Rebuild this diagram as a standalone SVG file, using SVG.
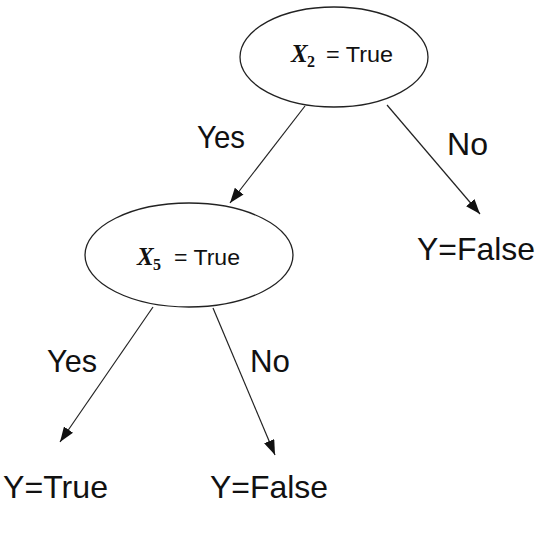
<svg xmlns="http://www.w3.org/2000/svg" width="548" height="552" viewBox="0 0 548 552">
<style>
.node{fill:#fff;stroke:#222;stroke-width:1.3}
.edge{stroke:#222;stroke-width:1.2;fill:none}
.lbl{font-family:"Liberation Sans",Arial,sans-serif;font-size:32px;fill:#111}
.var{font-family:"Liberation Serif","Times New Roman",serif;font-weight:bold;font-style:italic;font-size:25px;fill:#111}
.sub{font-style:normal;font-size:16px}
.eq{font-family:"Liberation Sans",Arial,sans-serif;font-size:22px;fill:#111}
</style>
<defs>
<marker id="arr" markerUnits="userSpaceOnUse" markerWidth="15" markerHeight="11" refX="15" refY="5.5" orient="auto">
<path d="M0,0 L15,5.5 L0,11 z" fill="#111"/>
</marker>
</defs>
<rect width="548" height="552" fill="#fff"/>
<g id="connectors">
<line class="edge" x1="305" y1="106" x2="230" y2="203" marker-end="url(#arr)"/>
<line class="edge" x1="387" y1="105" x2="480" y2="214" marker-end="url(#arr)"/>
<line class="edge" x1="153" y1="307" x2="60" y2="442" marker-end="url(#arr)"/>
<line class="edge" x1="213" y1="308" x2="275" y2="455" marker-end="url(#arr)"/>
<text class="lbl" x="197" y="148" textLength="48" lengthAdjust="spacingAndGlyphs">Yes</text>
<text class="lbl" x="447" y="155" textLength="41" lengthAdjust="spacingAndGlyphs">No</text>
<text class="lbl" x="47" y="372" textLength="50" lengthAdjust="spacingAndGlyphs">Yes</text>
<text class="lbl" x="250" y="372" textLength="40" lengthAdjust="spacingAndGlyphs">No</text>
</g>
<g id="node-x2">
<ellipse class="node" cx="334" cy="57" rx="94" ry="50"/>
<text class="var" x="291" y="62">X<tspan class="sub" x="307" dy="5">2</tspan></text>
<text class="eq" x="326" y="62" textLength="67" lengthAdjust="spacingAndGlyphs">= True</text>
</g>
<g id="node-x5">
<ellipse class="node" cx="189" cy="255" rx="104" ry="52"/>
<text class="var" x="137" y="265">X<tspan class="sub" x="153" dy="5">5</tspan></text>
<text class="eq" x="174" y="265" textLength="66" lengthAdjust="spacingAndGlyphs">= True</text>
</g>
<g id="leaf-false-1">
<text class="lbl" x="417" y="260" textLength="118" lengthAdjust="spacingAndGlyphs">Y=False</text>
</g>
<g id="leaf-true">
<text class="lbl" x="3" y="498" textLength="105" lengthAdjust="spacingAndGlyphs">Y=True</text>
</g>
<g id="leaf-false-2">
<text class="lbl" x="210" y="498" textLength="118" lengthAdjust="spacingAndGlyphs">Y=False</text>
</g>
</svg>
